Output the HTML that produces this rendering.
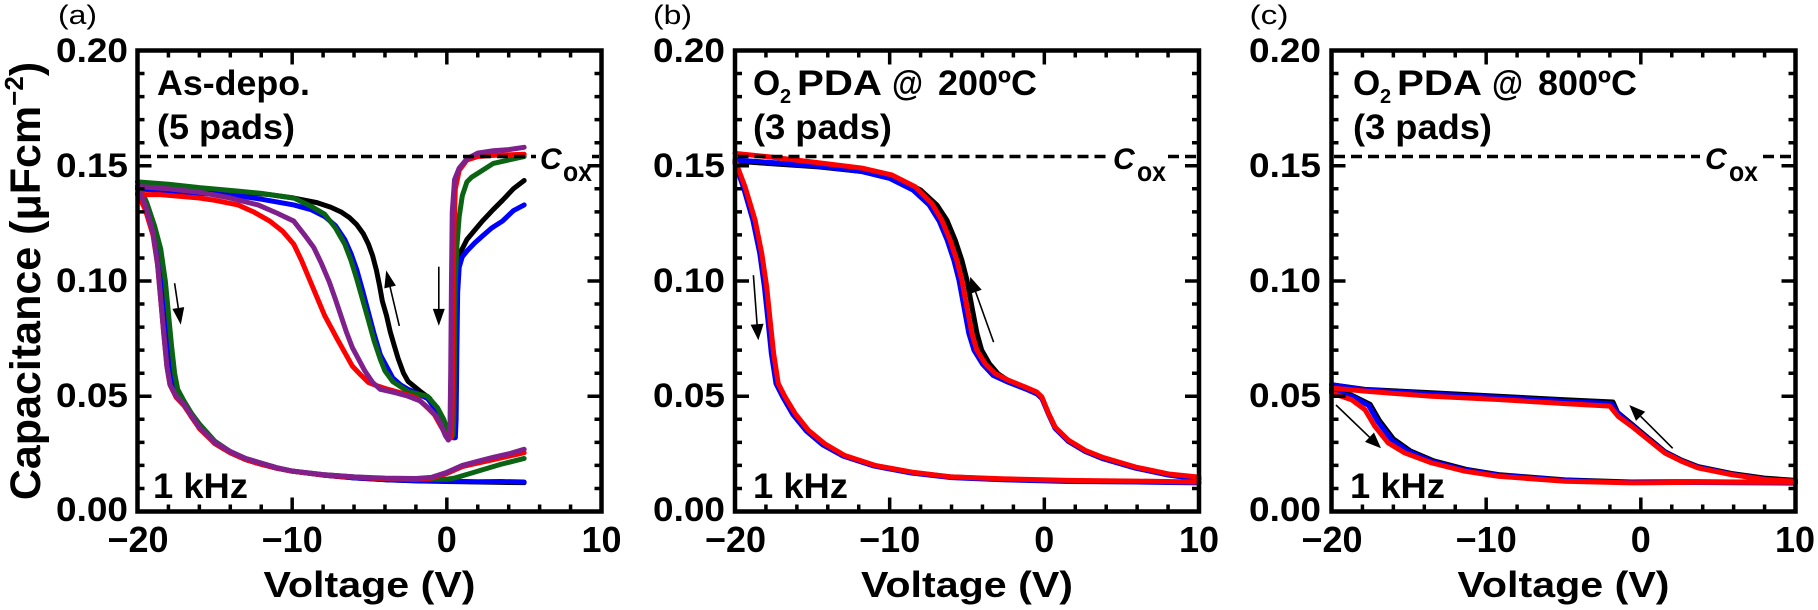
<!DOCTYPE html>
<html><head><meta charset="utf-8"><style>
html,body{margin:0;padding:0;background:#fff;}
svg{display:block;}
text{font-family:"Liberation Sans",Arial,sans-serif;fill:#000;}
.b{font-weight:bold;}
.cv polyline{vector-effect:non-scaling-stroke;fill:none;stroke-width:5;stroke-linejoin:round;stroke-linecap:round;}
.ar{stroke:#000;stroke-width:1.6;fill:none;}
.ah{fill:#000;stroke:none;}
.cox{stroke:#000;stroke-width:3.6;stroke-dasharray:11 6;fill:none;}
</style></head><body>
<svg width="1818" height="610" viewBox="0 0 1818 610" xmlns="http://www.w3.org/2000/svg">
<rect width="1818" height="610" fill="#fff"/>
<defs>
<g id="frame">
<path fill="none" stroke="#000" stroke-width="3.5" d="M30.93 511.5V504.5M61.87 511.5V504.5M92.8 511.5V504.5M123.73 511.5V504.5M185.6 511.5V504.5M216.53 511.5V504.5M247.47 511.5V504.5M278.4 511.5V504.5M340.27 511.5V504.5M371.2 511.5V504.5M402.13 511.5V504.5M433.07 511.5V504.5M30.93 50.5V57.5M61.87 50.5V57.5M92.8 50.5V57.5M123.73 50.5V57.5M185.6 50.5V57.5M216.53 50.5V57.5M247.47 50.5V57.5M278.4 50.5V57.5M340.27 50.5V57.5M371.2 50.5V57.5M402.13 50.5V57.5M433.07 50.5V57.5M154.67 511.5V497.5M309.33 511.5V497.5M154.67 50.5V64.5M309.33 50.5V64.5M0 488.45H7M0 465.4H7M0 442.35H7M0 419.3H7M0 373.2H7M0 350.15H7M0 327.1H7M0 304.05H7M0 257.95H7M0 234.9H7M0 211.85H7M0 188.8H7M0 142.7H7M0 119.65H7M0 96.6H7M0 73.55H7M464 488.45H457M464 465.4H457M464 442.35H457M464 419.3H457M464 373.2H457M464 350.15H457M464 327.1H457M464 304.05H457M464 257.95H457M464 234.9H457M464 211.85H457M464 188.8H457M464 142.7H457M464 119.65H457M464 96.6H457M464 73.55H457M0 396.25H14M0 281H14M0 165.75H14M464 396.25H450M464 281H450M464 165.75H450"/>
<rect x="0" y="50.5" width="464" height="461" fill="none" stroke="#000" stroke-width="4.5"/>
</g>
</defs>

<!-- Panel labels -->
<text x="58" y="24" font-size="27" textLength="39" lengthAdjust="spacingAndGlyphs">(a)</text>
<text x="653" y="24" font-size="27" textLength="39" lengthAdjust="spacingAndGlyphs">(b)</text>
<text x="1249.5" y="24" font-size="27" textLength="39" lengthAdjust="spacingAndGlyphs">(c)</text>

<!-- Y axis title -->
<text class="b" transform="translate(40,281) rotate(-90)" text-anchor="middle" font-size="43">Capacitance (μFcm<tspan font-size="26" dy="-17">−2</tspan><tspan dy="17">)</tspan></text>

<!-- ===== Panel A ===== -->
<g class="cv" transform="matrix(15.4667,0,0,-2.305,446.83,511.5)">
<polyline stroke="#000" points="-20,141 -19.5,134 -19,124 -18.6,110 -18.35,94 -18.15,78 -17.95,63 -17.75,55 -17.4,50 -17,46.5 -16.5,41 -16,36.5 -15,29.5 -14,25.5 -13,22.5 -12,20.5 -11,18.8 -10,17.5 -8,15.8 -6,14.6 -4,13.8 -2,13.3 0,13 2,12.8 5,12.5"/>
<polyline stroke="#000" points="5,143.6 4.3,140 3.6,135 3,131 2.3,126 1.8,122 1.3,118 1,114 0.75,111 0.65,95 0.55,65 0.5,40 0.45,32 0.3,33 0.17,35 -0.1,38 -0.47,41.5 -0.8,45.5 -1.1,49 -1.75,52.3 -2.5,56.4 -2.8,60 -3.15,66.4 -3.4,72 -3.66,78 -3.9,85 -4.17,91.3 -4.35,98 -4.55,104.6 -4.8,111 -5.07,116 -5.4,120.5 -5.83,124.5 -6.3,127.5 -6.85,130 -7.5,132 -8.4,134 -9.9,136 -11.5,137.5 -13.5,138.6 -16,139.5 -18,140.5 -20,141"/>
<polyline stroke="#0000ff" points="-20,140 -19.5,133 -19,123 -18.6,110 -18.35,94 -18.15,78 -17.95,63 -17.75,55 -17.4,50 -17,46.5 -16.5,41 -16,36.5 -15,29.5 -14,25.5 -13,22.5 -12,20.5 -11,18.8 -10,17.5 -8,15.8 -6,14.6 -4,13.8 -2,13.4 0,13.2 2,12.9 3.5,13 5,12.8"/>
<polyline stroke="#0000ff" points="5,133 4.3,130.5 3.6,126 2.9,123 2.3,119.5 1.8,116.5 1.3,113 1,110.5 0.8,106 0.7,95 0.65,70 0.6,40 0.55,32 0.45,32 0.3,34 0,37 -0.47,41.5 -0.8,45 -1.25,49 -2,51.5 -2.5,53 -3,55 -3.5,58 -3.9,63 -4.3,68 -4.7,77 -5.07,86.3 -5.45,96 -5.83,105 -6.2,112 -6.6,118 -7.2,124 -7.9,128 -8.8,131 -9.9,133 -12,135.5 -13.5,137 -16,138 -18,139 -20,140"/>
<polyline stroke="#0b6414" points="-20,143 -19.4,134 -18.9,124 -18.5,114 -18.2,100 -18,86 -17.8,72 -17.6,60 -17.4,53 -17,48 -16.5,42.5 -16,38 -15,30.5 -14,26 -13,23 -12,21 -11,19 -10,17.5 -8,16 -6,15 -4,14.2 -2,14 0,14 0.5,14.5 1.5,16.5 2.5,18.5 3.5,20.5 5,23"/>
<polyline stroke="#0b6414" points="5,154 4,152.5 3,151 2.3,148 1.6,145 1.3,143 1,137 0.8,128 0.65,115 0.55,100 0.5,70 0.45,40 0.4,33 0.3,33 0,36 -0.2,40 -0.6,45 -1.25,50 -2.5,52 -3.5,56.4 -4,61 -4.3,66 -4.7,74 -5.07,83 -5.45,92 -5.83,101 -6.2,109 -6.6,116 -7.2,123 -7.9,129 -8.8,132.5 -9.9,136 -12,138 -13.5,139 -16,140.5 -18,142 -20,143"/>
<polyline stroke="#ff0000" points="-20,138 -19.5,131 -19,120 -18.7,107 -18.5,92 -18.3,77 -18.1,63 -17.9,55 -17.5,49.5 -17,46 -16.5,41 -16,36 -15,29.5 -14,25.5 -13,22.5 -12,20.5 -11,18.8 -10,17.5 -8,15.8 -6,14.8 -4,14.2 -2,14 -1,14.5 0,16.5 1,19.5 2,21 3,22.5 4,24 5,25.5"/>
<polyline stroke="#ff0000" points="5,155 3,154.5 2,154 1.3,152.5 0.8,148 0.55,140 0.45,120 0.4,80 0.35,45 0.3,32 0.1,31.5 0,32.5 -0.47,38 -0.8,42 -1.25,45 -1.8,48.5 -2.25,50 -3,51.5 -3.8,53 -4.5,54.5 -5.07,56 -5.6,59.5 -6.1,63 -6.6,69 -7.1,75 -7.5,80 -7.9,85 -8.4,93 -8.9,101 -9.4,109 -9.9,116 -10.6,121.5 -11.45,126 -12.5,130 -13.5,133 -15,135 -16,136 -18.6,137.5 -20,137.5"/>
<polyline stroke="#80208c" points="-20,141 -19.5,133 -19,121 -18.7,107 -18.5,92 -18.3,77 -18.1,63 -17.9,55 -17.5,50 -17,46.5 -16.5,41.5 -16,36.5 -15,30 -14,26 -13,23 -12,21 -11,19 -10,17.6 -8,16 -6,15 -4,14.5 -2,14.3 -1,14.8 0,17 1,20 2,21.8 3,23.5 4,25 5,27"/>
<polyline stroke="#80208c" points="5,158 4,157 3,156.5 2,155.5 1.3,153 0.8,149 0.5,144 0.35,130 0.3,100 0.25,60 0.2,35 0.1,31 -0.1,33 -0.4,38 -0.7,41.5 -1.2,45 -1.75,48 -2.5,50 -3.3,51.5 -4.3,53 -4.8,56 -5.3,61 -6.1,71 -6.5,78 -6.85,85 -7.2,92 -7.6,99.6 -8.1,107.5 -8.6,114.5 -9.2,120 -9.9,126 -11,129.5 -12.2,133 -14,136 -16,138.5 -18,140 -20,141"/>
</g>
<use href="#frame" x="137.5"/>
<path class="cox" d="M140 156.5H536M592 156.5H599"/>
<text class="b" x="540" y="169" font-size="30" font-style="italic">C</text>
<text class="b" x="563" y="181" font-size="28" textLength="29" lengthAdjust="spacingAndGlyphs">ox</text>
<path class="ar" d="M174.6 283.3L178.3 308"/><polygon class="ah" points="180.8,324.8 184.2,307.1 172.4,308.9"/>
<path class="ar" d="M399.3 325.9L390.1 287"/><polygon class="ah" points="386.2,270.4 395.9,285.6 384.3,288.4"/>
<path class="ar" d="M438.8 266.7V309"/><polygon class="ah" points="438.8,325.9 444.8,308.9 432.8,308.9"/>
<text class="b" x="157" y="95" font-size="35" textLength="153" lengthAdjust="spacingAndGlyphs">As-depo.</text>
<text class="b" x="157" y="139" font-size="35" textLength="138" lengthAdjust="spacingAndGlyphs">(5 pads)</text>
<text class="b" x="153" y="498" font-size="35" textLength="95" lengthAdjust="spacingAndGlyphs">1 kHz</text>
<g class="b" font-size="34" text-anchor="end">
<text x="128" y="62" textLength="72" lengthAdjust="spacingAndGlyphs">0.20</text>
<text x="128" y="177" textLength="72" lengthAdjust="spacingAndGlyphs">0.15</text>
<text x="128" y="292" textLength="72" lengthAdjust="spacingAndGlyphs">0.10</text>
<text x="128" y="407" textLength="72" lengthAdjust="spacingAndGlyphs">0.05</text>
<text x="128" y="521" textLength="72" lengthAdjust="spacingAndGlyphs">0.00</text>
</g>
<g class="b" font-size="36" text-anchor="middle">
<text x="138" y="552">−20</text><text x="292.2" y="552">−10</text><text x="446.8" y="552">0</text><text x="601.5" y="552">10</text>
</g>
<text class="b" x="369.5" y="597" font-size="36" text-anchor="middle" textLength="212" lengthAdjust="spacingAndGlyphs">Voltage (V)</text>

<!-- ===== Panel B ===== -->
<g class="cv" transform="matrix(15.4667,0,0,-2.305,1044.33,511.5)">
<polyline stroke="#000" points="-20,151.5 -19.4,141 -18.8,127 -18.35,112 -18.05,97.5 -17.82,83 -17.6,68.5 -17.3,55.5 -16.85,49.7 -16.2,42.4 -15.35,35.2 -14.3,29.4 -13,24.3 -11,20 -8.6,17 -6,15 -2.74,14 1.57,13.3 5.9,13 10,12.6"/>
<polyline stroke="#000" points="10,14.5 8,16 5.9,19 3.73,23.3 2.65,26.3 1.57,30.5 0.7,36.5 0.28,42.4 -0.16,49.5 -0.48,51.5 -1.23,53.8 -2.31,56.7 -3,59.8 -3.55,64.1 -4.05,70 -4.35,77.2 -4.68,88.8 -5,100.4 -5.33,109 -5.76,117.7 -6.3,126.4 -6.95,133 -8,139.5 -9.5,144.5 -11.8,147.5 -14.6,149.5 -17.84,151 -20,152"/>
<polyline stroke="#0000ff" points="-20,151 -19.45,140.5 -18.85,126.5 -18.4,112 -18.1,97.5 -17.87,83 -17.65,68.5 -17.35,55.5 -16.9,49.5 -16.25,42 -15.4,35 -14.35,29 -13,24 -11,19.7 -8.6,16.7 -6,14.7 -2.74,13.8 1.57,13 5.9,12.8 10,12.4"/>
<polyline stroke="#0000ff" points="10,14 8,15.8 5.9,18.8 3.73,23 2.65,26 1.57,30.3 0.7,36 0.28,42 -0.16,49 -0.48,51 -1.23,53.2 -2.31,56 -3.3,59 -4,64 -4.55,70 -4.88,77.2 -5.2,88.8 -5.52,100.4 -5.85,109 -6.28,117.7 -6.8,126 -7.45,133 -8.5,139.5 -10,144.5 -11.8,147.5 -14.6,149.8 -17.84,151.5 -20,152.5"/>
<polyline stroke="#ff0000" points="-20,152.4 -19.35,140.9 -18.7,126.4 -18.27,112 -17.95,97.5 -17.73,83 -17.5,68.5 -17.2,55.5 -16.76,49.7 -16.1,42.4 -15.25,35.2 -14.2,29.4 -12.9,24.3 -10.94,20 -8.57,17.1 -6,15 -2.74,14.2 1.57,13.5 5.9,13.2 10,12.8"/>
<polyline stroke="#ff0000" points="10,14.9 8.04,16.3 5.9,19.3 3.73,23.6 2.65,26.5 1.57,30.9 0.7,36.6 0.28,42.4 -0.16,49.7 -0.48,51.8 -1.23,54 -2.31,56.9 -3.17,59.8 -3.82,64.1 -4.36,70 -4.68,77.2 -5.01,88.8 -5.33,100.4 -5.66,109 -6.09,117.7 -6.63,126.4 -7.27,133.6 -8.35,140.9 -9.86,146 -11.8,149 -14.6,151.3 -17.84,153.9 -20,155.4"/>
</g>
<use href="#frame" x="735"/>
<path class="cox" d="M737.5 156.5H1108M1168 156.5H1197"/>
<text class="b" x="1113" y="169" font-size="30" font-style="italic">C</text>
<text class="b" x="1137" y="181" font-size="28" textLength="29" lengthAdjust="spacingAndGlyphs">ox</text>
<path class="ar" d="M753.4 275.2L757.1 324.5"/><polygon class="ah" points="758.35,340.2 763.6,323.7 750.6,324.7"/>
<path class="ar" d="M993.6 342.1L975.6 291.9"/><polygon class="ah" points="970.2,276.9 981.7,289.7 969.5,294.1"/>
<text class="b" x="753" y="95" font-size="35">O</text>
<text class="b" x="780" y="103" font-size="20">2</text>
<text class="b" x="797" y="95" font-size="35" textLength="85" lengthAdjust="spacingAndGlyphs">PDA</text>
<text class="b" x="892" y="95" font-size="35" textLength="31" lengthAdjust="spacingAndGlyphs">@</text>
<text class="b" x="938" y="95" font-size="35" textLength="99" lengthAdjust="spacingAndGlyphs">200ºC</text>
<text class="b" x="753" y="139" font-size="35" textLength="139" lengthAdjust="spacingAndGlyphs">(3 pads)</text>
<text class="b" x="753" y="498" font-size="35" textLength="95" lengthAdjust="spacingAndGlyphs">1 kHz</text>
<g class="b" font-size="34" text-anchor="end">
<text x="725" y="62" textLength="72" lengthAdjust="spacingAndGlyphs">0.20</text>
<text x="725" y="177" textLength="72" lengthAdjust="spacingAndGlyphs">0.15</text>
<text x="725" y="292" textLength="72" lengthAdjust="spacingAndGlyphs">0.10</text>
<text x="725" y="407" textLength="72" lengthAdjust="spacingAndGlyphs">0.05</text>
<text x="725" y="521" textLength="72" lengthAdjust="spacingAndGlyphs">0.00</text>
</g>
<g class="b" font-size="36" text-anchor="middle">
<text x="735.5" y="552">−20</text><text x="889.7" y="552">−10</text><text x="1044.3" y="552">0</text><text x="1199" y="552">10</text>
</g>
<text class="b" x="967" y="597" font-size="36" text-anchor="middle" textLength="212" lengthAdjust="spacingAndGlyphs">Voltage (V)</text>

<!-- ===== Panel C ===== -->
<g class="cv" transform="matrix(15.4667,0,0,-2.305,1640.83,511.5)">
<polyline stroke="#000" points="-20,52.5 -18.7,50.5 -17.5,46.5 -16.9,39.5 -16,31.5 -14.9,26.3 -13.4,22 -11.3,18.3 -9.2,16 -4.9,13.7 -0.6,12.8 3.7,12.9 10,12.6"/>
<polyline stroke="#000" points="10,13.5 8,14.5 5.86,16.5 3.7,19.5 2.63,22.3 1.55,26 0.47,32 -0.6,38 -1.5,43 -1.8,47.5 -4.91,48.5 -9.22,50 -13.53,51.5 -17.84,53 -20,55"/>
<polyline stroke="#0000ff" points="-20,52 -18.7,50 -17.6,46 -17,39 -16.1,31 -15,26 -13.53,21.8 -11.38,18 -9.22,15.8 -4.91,13.5 -0.6,12.6 3.7,12.6 10,12.3"/>
<polyline stroke="#0000ff" points="10,12.8 8,14 5.86,16.2 3.7,19.2 2.63,22 1.55,25.8 0.47,31.5 -0.6,37.5 -1.47,42.5 -1.9,46.8 -4.91,47.8 -9.22,49.5 -13.53,51 -17.84,52.8 -20,55"/>
<polyline stroke="#ff0000" points="-20,51.4 -18.7,48.5 -17.84,44.2 -17.2,37 -16.34,29.8 -15.26,25.4 -13.53,21.1 -11.38,17.5 -9.22,15.3 -4.91,13.1 -0.6,12.4 3.7,12.7 10,12.7"/>
<polyline stroke="#ff0000" points="10,13.1 8,13.9 5.86,16 3.7,18.9 2.63,21.8 1.55,25.4 0.47,31.2 -0.6,37 -1.47,41.3 -2,45.7 -4.91,46.8 -9.22,48.6 -13.53,50 -17.84,52.2 -20,53.6"/>
</g>
<use href="#frame" x="1331.5"/>
<path class="cox" d="M1334 156.5H1700M1763 156.5H1793"/>
<text class="b" x="1705" y="169" font-size="30" font-style="italic">C</text>
<text class="b" x="1729" y="181" font-size="28" textLength="29" lengthAdjust="spacingAndGlyphs">ox</text>
<path class="ar" d="M1336 405L1369.5 437.2"/><polygon class="ah" points="1381,448.3 1374,432.5 1365,441.9"/>
<path class="ar" d="M1672.7 448.3L1640.6 416.3"/><polygon class="ah" points="1629.3,405 1645.2,411.7 1636,420.9"/>
<text class="b" x="1353" y="95" font-size="35">O</text>
<text class="b" x="1380" y="103" font-size="20">2</text>
<text class="b" x="1397" y="95" font-size="35" textLength="85" lengthAdjust="spacingAndGlyphs">PDA</text>
<text class="b" x="1492" y="95" font-size="35" textLength="31" lengthAdjust="spacingAndGlyphs">@</text>
<text class="b" x="1538" y="95" font-size="35" textLength="99" lengthAdjust="spacingAndGlyphs">800ºC</text>
<text class="b" x="1353" y="139" font-size="35" textLength="139" lengthAdjust="spacingAndGlyphs">(3 pads)</text>
<text class="b" x="1350" y="498" font-size="35" textLength="95" lengthAdjust="spacingAndGlyphs">1 kHz</text>
<g class="b" font-size="34" text-anchor="end">
<text x="1321" y="62" textLength="72" lengthAdjust="spacingAndGlyphs">0.20</text>
<text x="1321" y="177" textLength="72" lengthAdjust="spacingAndGlyphs">0.15</text>
<text x="1321" y="292" textLength="72" lengthAdjust="spacingAndGlyphs">0.10</text>
<text x="1321" y="407" textLength="72" lengthAdjust="spacingAndGlyphs">0.05</text>
<text x="1321" y="521" textLength="72" lengthAdjust="spacingAndGlyphs">0.00</text>
</g>
<g class="b" font-size="36" text-anchor="middle">
<text x="1332" y="552">−20</text><text x="1486.2" y="552">−10</text><text x="1640.8" y="552">0</text><text x="1795" y="552">10</text>
</g>
<text class="b" x="1563.5" y="597" font-size="36" text-anchor="middle" textLength="212" lengthAdjust="spacingAndGlyphs">Voltage (V)</text>
</svg>
</body></html>
